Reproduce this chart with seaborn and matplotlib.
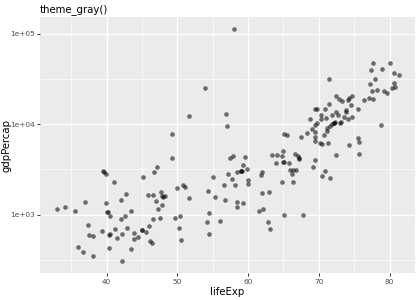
import numpy as np
import pandas as pd
import matplotlib
matplotlib.use("Agg")
import matplotlib.pyplot as plt
import seaborn as sns
from matplotlib.ticker import FixedLocator, FixedFormatter, NullFormatter

life_exp = [
    33.0, 34.1, 35.5, 37.0, 37.4, 35.9, 36.65, 37.5, 38.1, 38.1,
    39.4, 39.5, 39.7, 39.95, 39.9, 40.1, 40.25, 40.5, 40.3, 40.5,
    40.3, 41.0, 41.2, 41.5, 42.0, 42.1, 42.2, 42.2, 42.6, 42.8,
    42.9, 43.4, 43.5, 43.9, 43.9, 44.5, 45.0, 45.05, 45.2, 45.6,
    45.9, 46.0, 46.1, 46.4, 46.5, 46.65, 46.6, 47.0, 47.2, 47.3,
    47.6, 47.7, 47.9, 48.0, 48.3, 47.8,
    49.3, 49.3, 49.7, 49.9, 50.3, 50.4, 50.5, 50.85, 51.1, 51.6,
    51.7, 53.9, 54.2, 54.3, 54.5, 54.5, 55.0, 55.3, 56.0, 56.6,
    56.75, 56.9, 57.0, 57.2, 57.5, 57.8, 57.9, 58.1, 58.03, 58.4,
    58.5, 58.5, 59.0, 59.05, 59.15, 59.3, 59.3, 59.6, 59.8, 59.95, 60.05,
    61.5, 61.8, 62.0, 62.0, 62.1, 62.8, 62.9, 63.1, 63.4, 64.0,
    64.1, 64.8, 64.8, 64.9, 65.0, 65.05, 65.1, 65.1, 65.5, 65.85,
    66.0, 66.2, 66.4, 66.4, 66.65, 66.8, 67.0, 67.2, 67.2, 67.5,
    67.7, 68.3, 68.7, 69.0, 69.25, 69.4, 69.4, 69.4, 69.5, 69.5,
    69.4, 69.7, 69.8, 70.2, 70.4, 70.5, 70.3, 70.3, 70.75, 70.85,
    70.9, 71.0, 71.1, 71.1, 71.3, 71.5, 71.4, 71.6, 71.6, 71.8,
    71.9, 72.1, 72.15, 72.3, 72.4, 72.45, 72.5, 72.7, 72.9, 73.0,
    73.1, 73.35, 73.5, 73.8, 73.9, 74.2, 74.1, 74.25, 74.3, 74.6,
    74.7, 74.7, 75.5, 75.5, 75.75, 75.7, 76.4, 77.1, 77.3, 77.4,
    77.5, 77.6, 77.6, 78.0, 78.2, 78.8, 79.0, 79.15, 79.7, 80.0,
    80.3, 80.6, 80.7, 80.8, 81.3,
]

gdp_percap = [
    1151, 1222, 1084, 1387, 773, 434, 385, 589, 574, 348,
    662, 3050, 2980, 2805, 1328, 1074, 1065, 962, 598, 614,
    427, 2287, 692, 546, 1458, 899, 304, 614, 955, 1698,
    710, 1084, 419, 625, 536, 564, 679, 682, 2618, 641,
    1656, 746, 514, 480, 885, 2974, 1629, 1397, 3319, 1151,
    922, 1774, 1615, 1574, 1600, 1285,
    7762, 4207, 907, 1945, 703, 955, 527, 2118, 2032, 12250,
    1510, 25000, 819, 1803, 1047, 609, 2618, 1548, 847, 2138,
    1445, 12790, 9586, 2780, 4207, 2489, 4467, 2138, 113523, 1362,
    2951, 1210, 3027, 3010, 3000, 3493, 1350, 4285, 3155, 2173, 2386,
    1084, 2710, 1729, 2972, 1151, 826, 1758, 686, 4508, 3741,
    4508, 4450, 2323, 3837, 5075, 3803, 7762, 995, 7551, 3707,
    3128, 2780, 2306, 3128, 4624, 3100, 4430, 4245, 4100, 7183,
    995, 7960, 11360, 8730, 3350, 4036, 7128, 8090, 6550, 9840,
    14760, 14760, 10340, 6113, 6010, 2686, 12560, 11360, 7495, 14700,
    3050, 11550, 9040, 8300, 6113, 16630, 31700, 2512, 9424, 12680,
    10080, 10250, 10300, 10520, 4585, 13680, 20560, 12560, 18880, 10170,
    10610, 18110, 11950, 14280, 13580, 11360, 18270, 5810, 19550, 16070,
    12050, 20370, 14650, 7063, 6325, 4624, 18420, 19380, 27660, 39180,
    23340, 47200, 18880, 31700, 23950, 9670, 40850, 23340, 22030, 47200,
    25180, 28840, 36640, 25640, 34500,
]

y_breaks = [1e3, 1e4, 1e5]
y_labels = ["1e+03", "1e+04", "1e+05"]
x_breaks = [40, 50, 60, 70, 80]
x_labels = ["40", "50", "60", "70", "80"]
title_text = "theme_gray()"

df = pd.DataFrame({"lifeExp": life_exp, "gdpPercap": gdp_percap})

sns.set_theme(style="darkgrid")
plt.rcParams["font.family"] = ["DejaVu Sans"]

fig = plt.figure(figsize=(4.2, 3.0), dpi=100)
fig.patch.set_facecolor("white")
ax = fig.add_axes([40 / 420, 1 - 273 / 300, 375 / 420, 256 / 300])
ax.set_facecolor("#EBEBEB")

sns.scatterplot(data=df, x="lifeExp", y="gdpPercap", ax=ax, color="black",
                alpha=0.55, s=11, linewidth=0, zorder=3)

ax.set_yscale("log")
ax.set_xlim(30.6, 83.6)
ax.set_ylim(10 ** 2.355, 10 ** 5.184)

ax.xaxis.set_major_locator(FixedLocator(x_breaks))
ax.xaxis.set_major_formatter(FixedFormatter(x_labels))
ax.xaxis.set_minor_locator(FixedLocator([35, 45, 55, 65, 75]))
ax.yaxis.set_major_locator(FixedLocator(y_breaks))
ax.yaxis.set_major_formatter(FixedFormatter(y_labels))
ax.yaxis.set_minor_locator(FixedLocator([10 ** 2.5, 10 ** 3.5, 10 ** 4.5]))
ax.yaxis.set_minor_formatter(NullFormatter())

ax.grid(which="major", color="white", linewidth=1.0, zorder=0)
ax.grid(which="minor", color="white", linewidth=0.5, zorder=0)
ax.set_axisbelow(True)
for sp in ax.spines.values():
    sp.set_visible(False)

ax.tick_params(axis="both", which="major", length=2.5, width=0.7, color="#333333",
               labelsize=5.3, labelcolor="#4D4D4D", pad=1.5, bottom=True, left=True)
ax.tick_params(axis="both", which="minor", length=0)

ax.set_xlabel("lifeExp", fontsize=7.3, color="black", labelpad=2)
ax.set_ylabel("gdpPercap", fontsize=7.3, color="black")
ax.yaxis.set_label_coords(-(40 - 11.5) / 375, 0.5)
fig.text(40 / 420, 1 - 10 / 300, title_text, fontsize=7.3, color="black",
         ha="left", va="center")

fig.savefig("out.png", dpi=100)
